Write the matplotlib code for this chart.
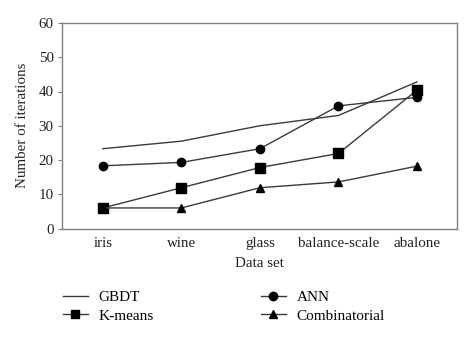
import matplotlib
matplotlib.use("Agg")
import matplotlib.pyplot as plt
from matplotlib.lines import Line2D

plt.rcParams["font.family"] = ["Liberation Serif", "DejaVu Serif"]

# ------------------- data --------------------------------------------- #
datasets = ["iris", "wine", "glass", "balance-scale", "abalone"]
gbdt   = [23.3, 25.5, 30.0, 33.0, 42.8]
ann    = [18.3, 19.3, 23.3, 35.8, 38.3]
kmeans = [6.0, 11.9, 17.8, 21.9, 40.4]
combi  = [6.0, 6.0, 11.9, 13.6, 18.2]

LINE_C = "#3a3a3a"
SPINE_C = "#808080"

fig = plt.figure(figsize=(4.74, 3.37), dpi=100)
ax = fig.add_axes([62/474, 1-228.5/337, (457-62)/474, (228.5-23)/337])

x = list(range(len(datasets)))
ax.plot(x, gbdt, color=LINE_C, lw=1.0)
ax.plot(x, ann, color=LINE_C, lw=1.0, marker="o", ms=6, mfc="k", mec="k")
ax.plot(x, kmeans, color=LINE_C, lw=1.0, marker="s", ms=6.5, mfc="k", mec="k")
ax.plot(x, combi, color=LINE_C, lw=1.0, marker="^", ms=6, mfc="k", mec="k")

ax.set_xlim(-0.52, 4.51)
ax.set_ylim(0, 60)
ax.set_yticks(range(0, 61, 10))
ax.set_xticks(x)
ax.set_xticklabels(datasets)
ax.tick_params(axis="x", length=0, pad=6, labelsize=10.8, colors="#222222")
ax.tick_params(axis="y", length=3, width=0.8, color=SPINE_C, pad=3,
               labelsize=10.8, labelcolor="#222222")
for s in ax.spines.values():
    s.set_color(SPINE_C); s.set_linewidth(1.0)

ax.set_xlabel("Data set", fontsize=10.8, color="#222222", labelpad=5)
ax.set_ylabel("Number of iterations", fontsize=10.8, color="#222222", labelpad=7)

handles = [
    Line2D([], [], color=LINE_C, lw=1.0),
    Line2D([], [], color=LINE_C, lw=1.0, marker="s", ms=6, mfc="k", mec="k"),
    Line2D([], [], color=LINE_C, lw=1.0, marker="o", ms=6, mfc="k", mec="k"),
    Line2D([], [], color=LINE_C, lw=1.0, marker="^", ms=6, mfc="k", mec="k"),
]
labels = ["GBDT", "K-means", "ANN", "Combinatorial"]
fig.legend(handles, labels, ncol=2, loc="upper left",
           bbox_to_anchor=(49/474, 1-277/337), frameon=False,
           fontsize=11, handlelength=1.65, columnspacing=7.0,
           labelspacing=0.3, handletextpad=0.7)

fig.savefig("out.png", dpi=100)
